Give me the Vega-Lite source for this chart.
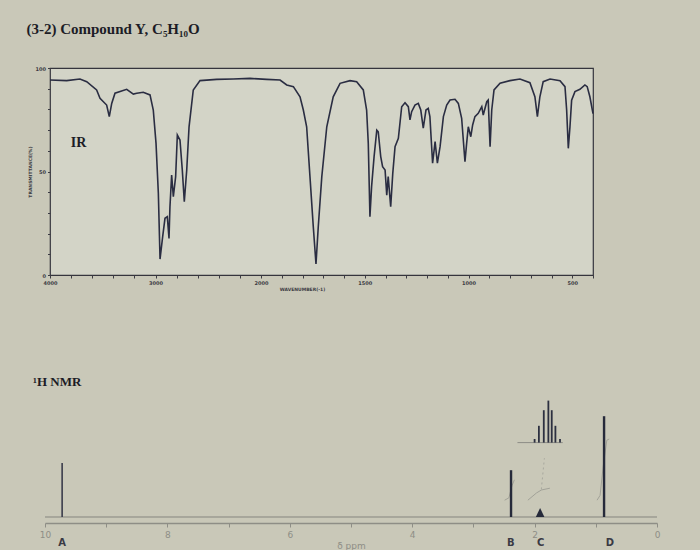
{
  "$schema": "https://vega.github.io/schema/vega-lite/v6.json",
  "background": "#c9c8b8",
  "padding": {"left": 26, "top": 22, "right": 38, "bottom": 0},
  "title": {"text": "(3-2) Compound Y, C₅H₁₀O", "anchor": "start", "font": "Liberation Serif", "fontSize": 15, "fontWeight": "bold", "color": "#1c1c26", "offset": 28},
  "config": {"view": {"stroke": null}, "axis": {"grid": false}},
  "spacing": 84,
  "vconcat": [
    {
      "width": 543,
      "height": 207,
      "view": {"stroke": "#35353d", "strokeWidth": 1.2, "fill": "#d3d4c7"},
      "encoding": {
        "x": {
          "field": "wn", "type": "quantitative",
          "scale": {"domain": [4000, 2000, 400], "range": [0, 211, 543]},
          "axis": {
            "values": [4000, 3800, 3600, 3400, 3200, 3000, 2800, 2600, 2400, 2200, 2000, 1900, 1800, 1700, 1600, 1500, 1400, 1300, 1200, 1100, 1000, 900, 800, 700, 600, 500, 400],
            "labelExpr": "indexof([4000,3000,2000,1500,1000,500], datum.value) >= 0 ? datum.value : ''",
            "labelFont": "DejaVu Sans", "labelFontSize": 5, "labelFontWeight": "bold", "labelColor": "#3c3c44",
            "labelPadding": 2, "labelOverlap": false, "labelFlush": false,
            "tickSize": 3, "tickColor": "#3c3c44", "domain": false,
            "title": "WAVENUMBER(-1)", "titleFont": "DejaVu Sans", "titleFontSize": 4.5, "titleColor": "#3c3c44", "titlePadding": 1, "titleX": 252
          }
        },
        "y": {
          "field": "t", "type": "quantitative",
          "scale": {"domain": [0, 100]},
          "axis": {
            "values": [0, 10, 20, 30, 40, 50, 60, 70, 80, 90, 100],
            "labelExpr": "datum.value % 50 == 0 ? datum.value : ''",
            "labelFont": "DejaVu Sans", "labelFontSize": 5, "labelFontWeight": "bold", "labelColor": "#3c3c44",
            "labelPadding": 2, "labelOverlap": false,
            "tickSize": 2.5, "tickColor": "#3c3c44", "domain": false,
            "title": "TRANSMITTANCE(%)", "titleFont": "DejaVu Sans", "titleFontSize": 4.5, "titleColor": "#3c3c44", "titlePadding": 3
          }
        }
      },
      "layer": [
        {
          "data": {"values": [
            {"wn": 4000, "t": 94.2}, {"wn": 3842, "t": 93.9}, {"wn": 3716, "t": 94.7}, {"wn": 3652, "t": 93.4}, {"wn": 3558, "t": 89.4},
            {"wn": 3526, "t": 85.4}, {"wn": 3463, "t": 82.1}, {"wn": 3438, "t": 76.5}, {"wn": 3415, "t": 82.9}, {"wn": 3384, "t": 87.8},
            {"wn": 3273, "t": 89.7}, {"wn": 3210, "t": 87.4}, {"wn": 3178, "t": 87.8}, {"wn": 3116, "t": 88.3}, {"wn": 3052, "t": 87.0},
            {"wn": 3021, "t": 79.7}, {"wn": 2995, "t": 63.6}, {"wn": 2973, "t": 39.5}, {"wn": 2957, "t": 7.7}, {"wn": 2932, "t": 18.5},
            {"wn": 2910, "t": 27.4}, {"wn": 2888, "t": 28.2}, {"wn": 2872, "t": 17.7}, {"wn": 2863, "t": 33.0}, {"wn": 2847, "t": 48.3},
            {"wn": 2831, "t": 37.8}, {"wn": 2809, "t": 47.5}, {"wn": 2793, "t": 67.6}, {"wn": 2768, "t": 65.2}, {"wn": 2746, "t": 50.7},
            {"wn": 2727, "t": 35.4}, {"wn": 2704, "t": 50.7}, {"wn": 2682, "t": 71.6}, {"wn": 2642, "t": 89.4}, {"wn": 2578, "t": 93.9},
            {"wn": 2420, "t": 94.5}, {"wn": 2263, "t": 94.7}, {"wn": 2104, "t": 95.0}, {"wn": 1973, "t": 94.5}, {"wn": 1908, "t": 94.2},
            {"wn": 1876, "t": 91.8}, {"wn": 1844, "t": 91.0}, {"wn": 1812, "t": 86.1}, {"wn": 1796, "t": 79.7}, {"wn": 1780, "t": 71.6},
            {"wn": 1764, "t": 47.5}, {"wn": 1748, "t": 23.3}, {"wn": 1735, "t": 5.3}, {"wn": 1724, "t": 23.3}, {"wn": 1707, "t": 47.5},
            {"wn": 1683, "t": 71.6}, {"wn": 1652, "t": 86.1}, {"wn": 1619, "t": 92.6}, {"wn": 1571, "t": 93.9}, {"wn": 1539, "t": 93.4},
            {"wn": 1507, "t": 89.4}, {"wn": 1491, "t": 79.7}, {"wn": 1483, "t": 63.6}, {"wn": 1475, "t": 28.2}, {"wn": 1467, "t": 42.7},
            {"wn": 1455, "t": 57.2}, {"wn": 1442, "t": 70.0}, {"wn": 1435, "t": 69.2}, {"wn": 1423, "t": 57.2}, {"wn": 1414, "t": 52.3},
            {"wn": 1402, "t": 50.7}, {"wn": 1394, "t": 38.6}, {"wn": 1387, "t": 47.5}, {"wn": 1375, "t": 33.0}, {"wn": 1365, "t": 49.1},
            {"wn": 1354, "t": 62.0}, {"wn": 1338, "t": 66.0}, {"wn": 1322, "t": 81.3}, {"wn": 1306, "t": 83.2}, {"wn": 1290, "t": 81.3},
            {"wn": 1282, "t": 74.9}, {"wn": 1274, "t": 78.9}, {"wn": 1258, "t": 82.1}, {"wn": 1242, "t": 82.9}, {"wn": 1230, "t": 79.7},
            {"wn": 1218, "t": 70.9}, {"wn": 1205, "t": 79.7}, {"wn": 1194, "t": 80.5}, {"wn": 1186, "t": 76.5}, {"wn": 1173, "t": 54.0},
            {"wn": 1161, "t": 64.4}, {"wn": 1150, "t": 54.0}, {"wn": 1137, "t": 62.0}, {"wn": 1121, "t": 76.5}, {"wn": 1105, "t": 82.1},
            {"wn": 1089, "t": 84.5}, {"wn": 1065, "t": 84.9}, {"wn": 1049, "t": 82.9}, {"wn": 1033, "t": 75.7}, {"wn": 1017, "t": 54.7},
            {"wn": 1009, "t": 63.6}, {"wn": 1001, "t": 71.6}, {"wn": 989, "t": 66.8}, {"wn": 980, "t": 72.5}, {"wn": 969, "t": 76.5},
            {"wn": 953, "t": 78.1}, {"wn": 936, "t": 81.3}, {"wn": 929, "t": 77.3}, {"wn": 912, "t": 83.7}, {"wn": 905, "t": 84.5},
            {"wn": 896, "t": 62.0}, {"wn": 888, "t": 79.7}, {"wn": 877, "t": 89.4}, {"wn": 848, "t": 92.6}, {"wn": 800, "t": 93.9},
            {"wn": 752, "t": 94.7}, {"wn": 704, "t": 92.9}, {"wn": 680, "t": 86.1}, {"wn": 668, "t": 76.5}, {"wn": 656, "t": 86.1},
            {"wn": 640, "t": 93.4}, {"wn": 607, "t": 94.7}, {"wn": 559, "t": 93.9}, {"wn": 535, "t": 91.0}, {"wn": 527, "t": 79.7},
            {"wn": 519, "t": 61.2}, {"wn": 511, "t": 71.6}, {"wn": 503, "t": 84.5}, {"wn": 487, "t": 88.6}, {"wn": 463, "t": 89.7},
            {"wn": 439, "t": 91.8}, {"wn": 428, "t": 91.0}, {"wn": 415, "t": 86.1}, {"wn": 400, "t": 78.0}
          ]},
          "mark": {"type": "line", "color": "#2a2d42", "strokeWidth": 1.6}
        },
        {
          "data": {"values": [{"wn": 3729, "t": 64, "label": "IR"}]},
          "mark": {"type": "text", "font": "Liberation Serif", "fontSize": 14, "fontWeight": "bold", "color": "#1c1c26"},
          "encoding": {"text": {"field": "label"}}
        }
      ]
    },
    {
      "width": 607,
      "height": 126,
      "title": {"text": "¹H NMR", "anchor": "start", "frame": "group", "font": "Liberation Serif", "fontSize": 13, "fontWeight": "bold", "color": "#1c1c26", "dx": -17, "offset": 8},
      "encoding": {
        "x": {
          "field": "ppm", "type": "quantitative",
          "scale": {"domain": [10, 0], "range": [-5, 607]},
          "axis": {
            "values": [10, 9, 8, 7, 6, 5, 4, 3, 2, 1, 0],
            "labelExpr": "datum.value % 2 == 0 ? datum.value : ''",
            "labelFont": "DejaVu Sans", "labelFontSize": 9, "labelColor": "#8e8e86",
            "labelPadding": 3, "labelFlush": false, "labelOverlap": false,
            "tickSize": 4, "tickColor": "#8e8e86", "domainColor": "#8e8e86", "domainWidth": 1.5,
            "title": "δ ppm", "titleFont": "DejaVu Sans", "titleFontSize": 9, "titleFontWeight": "normal", "titleColor": "#8e8e86", "titlePadding": 2
          }
        },
        "y": {"field": "h", "type": "quantitative", "scale": {"domain": [-5, 100]}, "axis": null}
      },
      "layer": [
        {
          "data": {"values": [{"ppm": 10, "ppm2": 0, "h": 0}]},
          "mark": {"type": "rule", "color": "#85857e", "strokeWidth": 1},
          "encoding": {"x2": {"field": "ppm2"}}
        },
        {
          "data": {"values": [{"ppm": 2.28, "ppm2": 1.54, "h": 62}]},
          "mark": {"type": "rule", "color": "#8d8d86", "strokeWidth": 1},
          "encoding": {"x2": {"field": "ppm2"}}
        },
        {
          "data": {"values": [
            {"g": "B", "ppm": 2.49, "h": 14}, {"g": "B", "ppm": 2.42, "h": 16}, {"g": "B", "ppm": 2.37, "h": 26}, {"g": "B", "ppm": 2.33, "h": 31},
            {"g": "C", "ppm": 2.11, "h": 14}, {"g": "C", "ppm": 1.97, "h": 20}, {"g": "C", "ppm": 1.89, "h": 22.5}, {"g": "C", "ppm": 1.75, "h": 24},
            {"g": "D", "ppm": 0.98, "h": 14}, {"g": "D", "ppm": 0.93, "h": 18}, {"g": "D", "ppm": 0.88, "h": 42}, {"g": "D", "ppm": 0.82, "h": 64}, {"g": "D", "ppm": 0.78, "h": 65}
          ]},
          "mark": {"type": "line", "color": "#a2a298", "strokeWidth": 1},
          "encoding": {"detail": {"field": "g"}}
        },
        {
          "data": {"values": [{"ppm": 1.89, "h": 23}, {"ppm": 1.84, "h": 49}]},
          "mark": {"type": "line", "color": "#a8a89e", "strokeWidth": 1, "strokeDash": [2, 3]}
        },
        {
          "data": {"values": [{"ppm": 9.72, "h": 45, "h0": 0}]},
          "mark": {"type": "rule", "color": "#3a3d4c", "strokeWidth": 1.6},
          "encoding": {"y2": {"field": "h0"}}
        },
        {
          "data": {"values": [{"ppm": 2.385, "h": 39, "h0": 0}, {"ppm": 0.865, "h": 84, "h0": 0}]},
          "mark": {"type": "rule", "color": "#262a3a", "strokeWidth": 2.4},
          "encoding": {"y2": {"field": "h0"}}
        },
        {
          "data": {"values": [
            {"ppm": 2.0, "h": 65, "h0": 62}, {"ppm": 1.93, "h": 76, "h0": 62}, {"ppm": 1.85, "h": 89, "h0": 62}, {"ppm": 1.775, "h": 97, "h0": 62},
            {"ppm": 1.72, "h": 89, "h0": 62}, {"ppm": 1.66, "h": 76, "h0": 62}, {"ppm": 1.585, "h": 65, "h0": 62}
          ]},
          "mark": {"type": "rule", "color": "#2c3040", "strokeWidth": 1.8},
          "encoding": {"y2": {"field": "h0"}}
        },
        {
          "data": {"values": [{"ppm": 1.98, "h": 0}, {"ppm": 1.91, "h": 7.5}, {"ppm": 1.84, "h": 0}]},
          "mark": {"type": "area", "color": "#262a3a"}
        },
        {
          "data": {"values": [{"ppm": 9.72, "h": -21.5, "label": "A"}, {"ppm": 2.39, "h": -21.5, "label": "B"}, {"ppm": 1.90, "h": -21.5, "label": "C"}, {"ppm": 0.77, "h": -21.5, "label": "D"}]},
          "mark": {"type": "text", "font": "DejaVu Sans", "fontSize": 10, "fontWeight": "bold", "color": "#3a3a44"},
          "encoding": {"text": {"field": "label"}}
        }
      ]
    }
  ]
}
